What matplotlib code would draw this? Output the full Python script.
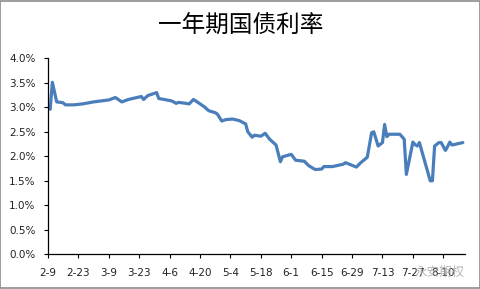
import matplotlib
matplotlib.use("Agg")
import matplotlib.pyplot as plt
from matplotlib.patches import Rectangle

# day offsets from 2-9 and one-year treasury yield (%)
days = [0, 1, 2, 4, 6, 7, 8, 12, 16, 21, 28, 31, 34, 37, 43, 44, 46, 48, 50, 51,
        57, 59, 60, 62, 65, 67, 69, 72, 74, 77, 78, 80, 82, 85, 88, 91, 92, 94,
        95, 98, 100, 102, 105, 107, 108, 112, 114, 118, 120, 123, 126, 127, 131,
        136, 137, 142, 144, 147, 149, 150, 152, 154, 155, 156, 157, 162, 164,
        165, 168, 169, 170, 171, 176, 177, 178, 180, 181, 183, 184, 185, 186,
        188, 191]
rates = [3.07, 2.96, 3.51, 3.11, 3.10, 3.09, 3.05, 3.05, 3.07, 3.11, 3.15, 3.20,
         3.11, 3.16, 3.22, 3.16, 3.24, 3.27, 3.30, 3.18, 3.13, 3.08, 3.10, 3.09,
         3.07, 3.16, 3.10, 3.01, 2.93, 2.89, 2.86, 2.72, 2.75, 2.76, 2.73, 2.66,
         2.50, 2.39, 2.43, 2.41, 2.47, 2.35, 2.23, 1.89, 1.99, 2.04, 1.92, 1.90,
         1.81, 1.73, 1.74, 1.79, 1.79, 1.84, 1.87, 1.78, 1.87, 1.98, 2.48, 2.50,
         2.21, 2.28, 2.65, 2.40, 2.45, 2.45, 2.35, 1.63, 2.29, 2.24, 2.21, 2.28,
         1.50, 1.50, 2.21, 2.28, 2.28, 2.12, 2.20, 2.29, 2.23, 2.25, 2.28]
tick_labels = ["2-9", "2-23", "3-9", "3-23", "4-6", "4-20", "5-4", "5-18",
               "6-1", "6-15", "6-29", "7-13", "7-27", "8-10"]
y_ticks = [0.0, 0.5, 1.0, 1.5, 2.0, 2.5, 3.0, 3.5, 4.0]
title = "一年期国债利率"

plt.rcParams['font.family'] = ['DejaVu Sans', 'Noto Sans CJK SC']

fig = plt.figure(figsize=(4.81, 2.89), dpi=100)
ax = fig.add_axes([48/481, 1-254.3/289, (465-48)/481, (254.3-58.3)/289])

ax.plot(days, rates, color='#4a7ebb', lw=2.3,
        solid_joinstyle='round', solid_capstyle='round')

ax.set_xlim(0, 192)
ax.set_ylim(0, 4.0)
ax.set_yticks(y_ticks)
ax.set_yticklabels([f"{v:.1f}%" for v in y_ticks], fontsize=7.5, color='#222222')

major = [14 * k for k in range(len(tick_labels))]
ax.set_xticks(major)
ax.set_xticklabels(tick_labels, fontsize=7.5, color='#222222')
ax.tick_params(axis='x', direction='out', length=3, width=0.8, pad=7)
ax.tick_params(axis='y', direction='out', length=3, width=0.8, pad=6)

for s in ['top', 'right']:
    ax.spines[s].set_visible(False)
for s in ['left', 'bottom']:
    ax.spines[s].set_linewidth(0.9)
    ax.spines[s].set_color('black')

fig.text(0.5, 1 - 26/289, title, ha='center', va='center', fontsize=17,
         family=['Noto Sans CJK SC'], color='black')

fig.text(440/481, 1 - 272/289, "永安期权", ha='center', va='center', fontsize=9,
         family=['Noto Sans CJK SC'], color='#aaaaaa', alpha=0.85)

fig.patches.append(Rectangle((0.001, 0.002), 0.997, 0.995, transform=fig.transFigure,
                             fill=False, edgecolor='#8c8c8c', lw=1.2))

fig.savefig("out.png", dpi=100)
